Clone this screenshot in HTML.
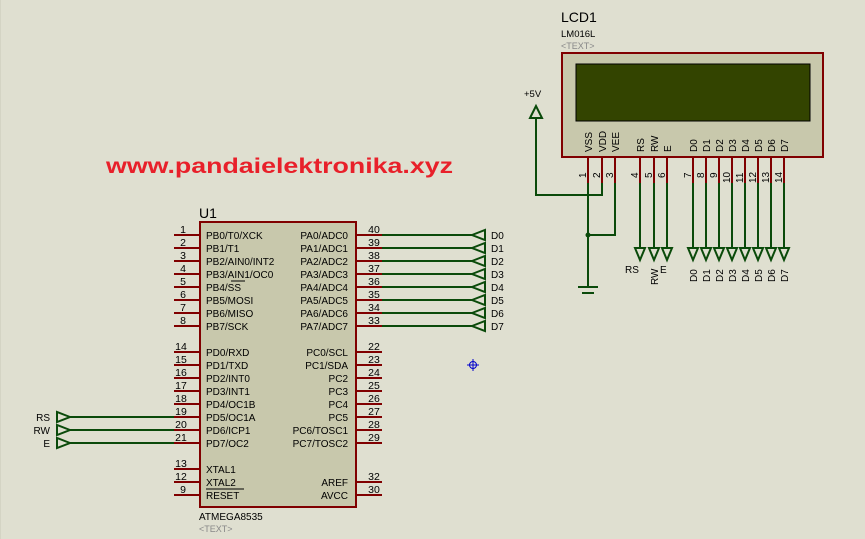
<!DOCTYPE html>
<html><head><meta charset="utf-8"><style>
html,body{margin:0;padding:0;background:#dfdfd0;}
svg{display:block;font-family:"Liberation Sans",sans-serif;}
</style></head><body>
<svg width="865" height="539" viewBox="0 0 865 539" xmlns="http://www.w3.org/2000/svg">
<rect width="865" height="539" fill="#dfdfd0"/>
<line x1="0" y1="0" x2="0" y2="539" stroke="#c8c8b8"/>
<text x="106" y="173" font-size="21" font-weight="bold" fill="#e8202a" textLength="347" lengthAdjust="spacingAndGlyphs">www.pandaielektronika.xyz</text>

<!-- U1 -->
<text x="199" y="218" font-size="14" fill="#000">U1</text>
<rect x="200" y="222" width="156" height="285" fill="#c8c8ac" stroke="#800000" stroke-width="2"/>
<g stroke="#800000" stroke-width="2">
<line x1="174" y1="235" x2="200" y2="235"/><line x1="174" y1="248" x2="200" y2="248"/><line x1="174" y1="261" x2="200" y2="261"/><line x1="174" y1="274" x2="200" y2="274"/><line x1="174" y1="287" x2="200" y2="287"/><line x1="174" y1="300" x2="200" y2="300"/><line x1="174" y1="313" x2="200" y2="313"/><line x1="174" y1="326" x2="200" y2="326"/>
<line x1="174" y1="352" x2="200" y2="352"/><line x1="174" y1="365" x2="200" y2="365"/><line x1="174" y1="378" x2="200" y2="378"/><line x1="174" y1="391" x2="200" y2="391"/><line x1="174" y1="404" x2="200" y2="404"/><line x1="174" y1="417" x2="200" y2="417"/><line x1="174" y1="430" x2="200" y2="430"/><line x1="174" y1="443" x2="200" y2="443"/>
<line x1="174" y1="469" x2="200" y2="469"/><line x1="174" y1="482" x2="200" y2="482"/><line x1="174" y1="495" x2="200" y2="495"/>
<line x1="356" y1="235" x2="382" y2="235"/><line x1="356" y1="248" x2="382" y2="248"/><line x1="356" y1="261" x2="382" y2="261"/><line x1="356" y1="274" x2="382" y2="274"/><line x1="356" y1="287" x2="382" y2="287"/><line x1="356" y1="300" x2="382" y2="300"/><line x1="356" y1="313" x2="382" y2="313"/><line x1="356" y1="326" x2="382" y2="326"/>
<line x1="356" y1="352" x2="382" y2="352"/><line x1="356" y1="365" x2="382" y2="365"/><line x1="356" y1="378" x2="382" y2="378"/><line x1="356" y1="391" x2="382" y2="391"/><line x1="356" y1="404" x2="382" y2="404"/><line x1="356" y1="417" x2="382" y2="417"/><line x1="356" y1="430" x2="382" y2="430"/><line x1="356" y1="443" x2="382" y2="443"/>
<line x1="356" y1="482" x2="382" y2="482"/><line x1="356" y1="495" x2="382" y2="495"/>
</g>
<g font-size="10.5" fill="#000" text-anchor="middle">
<text x="183" y="233">1</text><text x="183" y="246">2</text><text x="183" y="259">3</text><text x="183" y="272">4</text><text x="183" y="285">5</text><text x="183" y="298">6</text><text x="183" y="311">7</text><text x="183" y="324">8</text>
<text x="181" y="350">14</text><text x="181" y="363">15</text><text x="181" y="376">16</text><text x="181" y="389">17</text><text x="181" y="402">18</text><text x="181" y="415">19</text><text x="181" y="428">20</text><text x="181" y="441">21</text>
<text x="181" y="467">13</text><text x="181" y="480">12</text><text x="183" y="493">9</text>
<text x="374" y="233">40</text><text x="374" y="246">39</text><text x="374" y="259">38</text><text x="374" y="272">37</text><text x="374" y="285">36</text><text x="374" y="298">35</text><text x="374" y="311">34</text><text x="374" y="324">33</text>
<text x="374" y="350">22</text><text x="374" y="363">23</text><text x="374" y="376">24</text><text x="374" y="389">25</text><text x="374" y="402">26</text><text x="374" y="415">27</text><text x="374" y="428">28</text><text x="374" y="441">29</text>
<text x="374" y="480">32</text><text x="374" y="493">30</text>
</g>
<g font-size="10" fill="#000">
<text x="206" y="239">PB0/T0/XCK</text><text x="206" y="252">PB1/T1</text><text x="206" y="265">PB2/AIN0/INT2</text><text x="206" y="278">PB3/AIN1/OC0</text><text x="206" y="291">PB4/SS</text><text x="206" y="304">PB5/MOSI</text><text x="206" y="317">PB6/MISO</text><text x="206" y="330">PB7/SCK</text>
<text x="206" y="356">PD0/RXD</text><text x="206" y="369">PD1/TXD</text><text x="206" y="382">PD2/INT0</text><text x="206" y="395">PD3/INT1</text><text x="206" y="408">PD4/OC1B</text><text x="206" y="421">PD5/OC1A</text><text x="206" y="434">PD6/ICP1</text><text x="206" y="447">PD7/OC2</text>
<text x="206" y="473">XTAL1</text><text x="206" y="486">XTAL2</text><text x="206" y="499">RESET</text>
</g>
<line x1="231" y1="281" x2="245" y2="281" stroke="#000" stroke-width="1"/>
<line x1="206" y1="489" x2="244" y2="489" stroke="#000" stroke-width="1"/>
<g font-size="10" fill="#000" text-anchor="end">
<text x="348" y="239">PA0/ADC0</text><text x="348" y="252">PA1/ADC1</text><text x="348" y="265">PA2/ADC2</text><text x="348" y="278">PA3/ADC3</text><text x="348" y="291">PA4/ADC4</text><text x="348" y="304">PA5/ADC5</text><text x="348" y="317">PA6/ADC6</text><text x="348" y="330">PA7/ADC7</text>
<text x="348" y="356">PC0/SCL</text><text x="348" y="369">PC1/SDA</text><text x="348" y="382">PC2</text><text x="348" y="395">PC3</text><text x="348" y="408">PC4</text><text x="348" y="421">PC5</text><text x="348" y="434">PC6/TOSC1</text><text x="348" y="447">PC7/TOSC2</text>
<text x="348" y="486">AREF</text><text x="348" y="499">AVCC</text>
</g>
<text x="199" y="520" font-size="10" fill="#000">ATMEGA8535</text>
<text x="199" y="532" font-size="9" fill="#888">&lt;TEXT&gt;</text>

<!-- D wires U1 -->
<g stroke="#0a4a0a" stroke-width="2" fill="none">
<line x1="382" y1="235" x2="472" y2="235"/><line x1="382" y1="248" x2="472" y2="248"/><line x1="382" y1="261" x2="472" y2="261"/><line x1="382" y1="274" x2="472" y2="274"/><line x1="382" y1="287" x2="472" y2="287"/><line x1="382" y1="300" x2="472" y2="300"/><line x1="382" y1="313" x2="472" y2="313"/><line x1="382" y1="326" x2="472" y2="326"/>
<path d="M472 235 L485 230 L485 240 Z"/><path d="M472 248 L485 243 L485 253 Z"/><path d="M472 261 L485 256 L485 266 Z"/><path d="M472 274 L485 269 L485 279 Z"/><path d="M472 287 L485 282 L485 292 Z"/><path d="M472 300 L485 295 L485 305 Z"/><path d="M472 313 L485 308 L485 318 Z"/><path d="M472 326 L485 321 L485 331 Z"/>
<line x1="70" y1="417" x2="174" y2="417"/><line x1="70" y1="430" x2="174" y2="430"/><line x1="70" y1="443" x2="174" y2="443"/>
<path d="M70 417 L57 412 L57 422 Z"/><path d="M70 430 L57 425 L57 435 Z"/><path d="M70 443 L57 438 L57 448 Z"/>
</g>
<g font-size="10" fill="#000">
<text x="491" y="239">D0</text><text x="491" y="252">D1</text><text x="491" y="265">D2</text><text x="491" y="278">D3</text><text x="491" y="291">D4</text><text x="491" y="304">D5</text><text x="491" y="317">D6</text><text x="491" y="330">D7</text>
</g>
<g font-size="10" fill="#000" text-anchor="end">
<text x="50" y="421">RS</text><text x="50" y="434">RW</text><text x="50" y="447">E</text>
</g>

<!-- cursor -->
<g stroke="#0000cc" stroke-width="1" fill="none">
<circle cx="473" cy="365" r="3.5"/><line x1="467" y1="365" x2="479" y2="365"/><line x1="473" y1="359" x2="473" y2="371"/>
</g>

<!-- LCD -->
<text x="561" y="22" font-size="14" fill="#000">LCD1</text>
<text x="561" y="37" font-size="9.5" fill="#000">LM016L</text>
<text x="561" y="49" font-size="9" fill="#888">&lt;TEXT&gt;</text>
<rect x="562" y="53" width="261" height="104" fill="#c8c8ac" stroke="#800000" stroke-width="2"/>
<rect x="576" y="64" width="234" height="57" fill="#334400" stroke="#000" stroke-width="1"/>
<g stroke="#800000" stroke-width="2">
<line x1="588" y1="157" x2="588" y2="183"/><line x1="602" y1="157" x2="602" y2="183"/><line x1="615" y1="157" x2="615" y2="183"/>
<line x1="640" y1="157" x2="640" y2="183"/><line x1="654" y1="157" x2="654" y2="183"/><line x1="667" y1="157" x2="667" y2="183"/>
<line x1="693" y1="157" x2="693" y2="183"/><line x1="706" y1="157" x2="706" y2="183"/><line x1="719" y1="157" x2="719" y2="183"/><line x1="732" y1="157" x2="732" y2="183"/><line x1="745" y1="157" x2="745" y2="183"/><line x1="758" y1="157" x2="758" y2="183"/><line x1="771" y1="157" x2="771" y2="183"/><line x1="784" y1="157" x2="784" y2="183"/>
</g>
<g font-size="10" fill="#000">
<text transform="translate(592,152) rotate(-90)">VSS</text><text transform="translate(606,152) rotate(-90)">VDD</text><text transform="translate(619,152) rotate(-90)">VEE</text>
<text transform="translate(644,152) rotate(-90)">RS</text><text transform="translate(658,152) rotate(-90)">RW</text><text transform="translate(671,152) rotate(-90)">E</text>
<text transform="translate(697,152) rotate(-90)">D0</text><text transform="translate(710,152) rotate(-90)">D1</text><text transform="translate(723,152) rotate(-90)">D2</text><text transform="translate(736,152) rotate(-90)">D3</text><text transform="translate(749,152) rotate(-90)">D4</text><text transform="translate(762,152) rotate(-90)">D5</text><text transform="translate(775,152) rotate(-90)">D6</text><text transform="translate(788,152) rotate(-90)">D7</text>
</g>
<g font-size="10" fill="#000">
<text transform="translate(586,178) rotate(-90)">1</text><text transform="translate(600,178) rotate(-90)">2</text><text transform="translate(613,178) rotate(-90)">3</text>
<text transform="translate(638,178) rotate(-90)">4</text><text transform="translate(652,178) rotate(-90)">5</text><text transform="translate(665,178) rotate(-90)">6</text>
<text transform="translate(691,178) rotate(-90)">7</text><text transform="translate(704,178) rotate(-90)">8</text><text transform="translate(717,178) rotate(-90)">9</text><text transform="translate(730,183) rotate(-90)">10</text><text transform="translate(743,183) rotate(-90)">11</text><text transform="translate(756,183) rotate(-90)">12</text><text transform="translate(769,183) rotate(-90)">13</text><text transform="translate(782,183) rotate(-90)">14</text>
</g>
<g stroke="#0a4a0a" stroke-width="2" fill="none">
<line x1="640" y1="183" x2="640" y2="248"/><line x1="654" y1="183" x2="654" y2="248"/><line x1="667" y1="183" x2="667" y2="248"/>
<line x1="693" y1="183" x2="693" y2="248"/><line x1="706" y1="183" x2="706" y2="248"/><line x1="719" y1="183" x2="719" y2="248"/><line x1="732" y1="183" x2="732" y2="248"/><line x1="745" y1="183" x2="745" y2="248"/><line x1="758" y1="183" x2="758" y2="248"/><line x1="771" y1="183" x2="771" y2="248"/><line x1="784" y1="183" x2="784" y2="248"/>
<path d="M635 248 L645 248 L640 260 Z"/><path d="M649 248 L659 248 L654 260 Z"/><path d="M662 248 L672 248 L667 260 Z"/>
<path d="M688 248 L698 248 L693 260 Z"/><path d="M701 248 L711 248 L706 260 Z"/><path d="M714 248 L724 248 L719 260 Z"/><path d="M727 248 L737 248 L732 260 Z"/><path d="M740 248 L750 248 L745 260 Z"/><path d="M753 248 L763 248 L758 260 Z"/><path d="M766 248 L776 248 L771 260 Z"/><path d="M779 248 L789 248 L784 260 Z"/>
<polyline points="602,183 602,195 536,195 536,118"/>
<path d="M536 106 L530 118 L542 118 Z"/>
<line x1="588" y1="183" x2="588" y2="287"/>
<polyline points="615,183 615,235 588,235"/>
<line x1="578" y1="287" x2="598" y2="287"/>
<line x1="582" y1="293" x2="594" y2="293"/>
</g>
<circle cx="588" cy="235" r="2.5" fill="#0a4a0a"/>
<text x="524" y="97" font-size="9.5" fill="#000">+5V</text>
<g font-size="10" fill="#000">
<text x="625" y="273">RS</text><text transform="translate(658,285) rotate(-90)">RW</text><text x="660" y="273">E</text>
<text transform="translate(697,282) rotate(-90)">D0</text><text transform="translate(710,282) rotate(-90)">D1</text><text transform="translate(723,282) rotate(-90)">D2</text><text transform="translate(736,282) rotate(-90)">D3</text><text transform="translate(749,282) rotate(-90)">D4</text><text transform="translate(762,282) rotate(-90)">D5</text><text transform="translate(775,282) rotate(-90)">D6</text><text transform="translate(788,282) rotate(-90)">D7</text>
</g>
</svg>
</body></html>
